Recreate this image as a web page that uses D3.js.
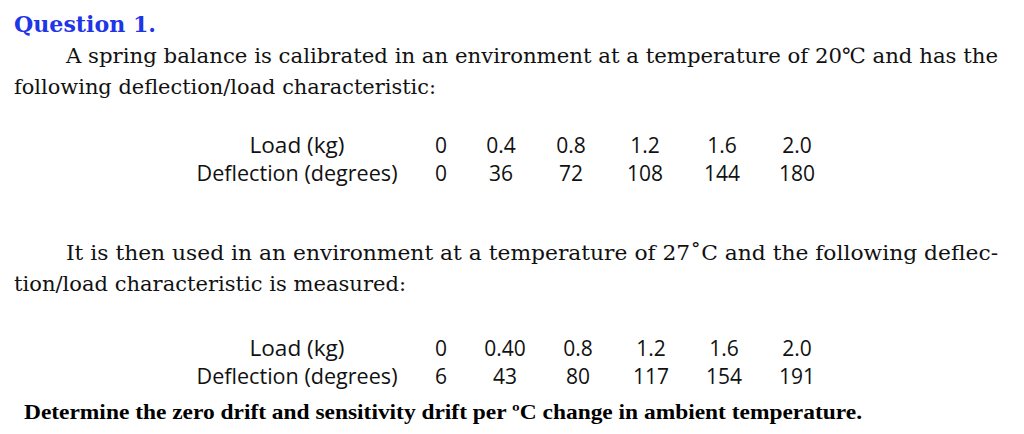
<!DOCTYPE html>
<html><head><meta charset="utf-8">
<script src="https://cdn.jsdelivr.net/npm/d3@7"></script>
<style>body{margin:0;background:#fff}</style>
</head><body>
<script>
const loads1 = ['0', '0.4', '0.8', '1.2', '1.6', '2.0']
const defl1 = [0, 36, 72, 108, 144, 180]
const loads2 = ['0', '0.40', '0.8', '1.2', '1.6', '2.0']
const defl2 = [6, 43, 80, 117, 154, 191]
const rowLabels = ['Load (kg)', 'Deflection (degrees)']
const labelWidths = [95, 201]

const svg = d3.select('body').append('svg').attr('width', 1024).attr('height', 434)
const serif = 'DejaVu Serif, serif'
const sans = 'Open Sans, sans-serif'

svg.append('text').attr('x', 14).attr('y', 32).text('Question 1.')
  .attr('font-family', serif).attr('font-weight', 'bold').attr('font-size', 22).attr('fill', '#1f35e8')
  .attr('textLength', 142).attr('lengthAdjust', 'spacingAndGlyphs')

// paragraph lines: [text, x, y, width]
const para = [
  ['A spring balance is calibrated in an environment at a temperature of 20\u2103 and has the', 66, 63, 932],
  ['following deflection/load characteristic:', 14, 94, 422],
  ['It is then used in an environment at a temperature of 27\u02DAC and the following deflec-', 66, 260, 932],
  ['tion/load characteristic is measured:', 14, 291, 392]
]
para.forEach(([t, x, y, w]) => {
  svg.append('text').attr('x', x).attr('y', y).text(t)
    .attr('font-family', serif).attr('font-size', 21).attr('fill', '#111')
    .attr('textLength', w).attr('lengthAdjust', 'spacingAndGlyphs')
})

function table (y0, cols, loads, defl) {
  const g = svg.append('g').attr('font-family', sans).attr('font-size', 21).attr('fill', '#111')
  const rows = [loads, defl.map(String)]
  g.selectAll('text.lab').data(rowLabels).join('text')
    .attr('x', 297).attr('y', (d, i) => y0 + i * 28).attr('text-anchor', 'middle').text(d => d)
    .attr('textLength', (d, i) => labelWidths[i]).attr('lengthAdjust', 'spacingAndGlyphs')
  rows.forEach((r, i) => {
    g.selectAll('text.v' + i).data(r).join('text')
      .attr('x', (d, j) => cols[j]).attr('y', y0 + i * 28).attr('text-anchor', 'middle').text(d => d)
  })
}
table(153, [441, 501, 571, 645, 722, 797], loads1, defl1)
table(356, [441, 505, 578, 651, 724, 797], loads2, defl2)

svg.append('text').attr('x', 24).attr('y', 419)
  .text('Determine the zero drift and sensitivity drift per \u00BAC change in ambient temperature.')
  .attr('font-family', 'Liberation Serif, serif').attr('font-weight', 'bold').attr('font-size', 21).attr('fill', '#000')
  .attr('textLength', 838).attr('lengthAdjust', 'spacingAndGlyphs')
</script>
</body></html>
